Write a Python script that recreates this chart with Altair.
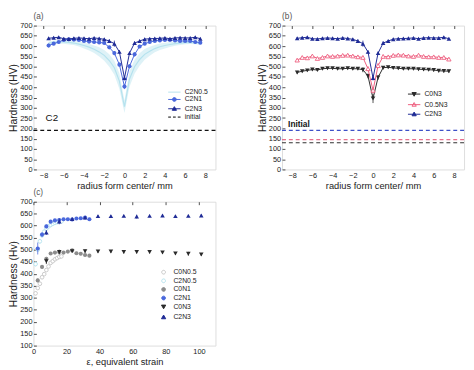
import altair as alt
import pandas as pd

FONT = "Liberation Sans"

# ---------------- data: panels (a) and (b), hardness vs radius ----------------
radius = [-7.5, -7.0, -6.5, -6.0, -5.5, -5.0, -4.5, -4.0, -3.5, -3.0, -2.5, -2.0, -1.5, -1.0, -0.5, 0.0,
          0.5, 1.0, 1.5, 2.0, 2.5, 3.0, 3.5, 4.0, 4.5, 5.0, 5.5, 6.0, 6.5, 7.0, 7.5]

hv_C2N05 = [615, 618, 620, 620, 618, 615, 610, 603, 595, 585, 572, 555, 530, 495, 430, 305,
            440, 500, 535, 560, 575, 588, 597, 603, 608, 612, 615, 617, 618, 617, 615]
hv_C2N1 = [603, 612, 620, 630, 633, 632, 630, 625, 622, 620, 618, 615, 594, 566, 510, 403,
           502, 560, 598, 612, 620, 625, 628, 630, 630, 628, 625, 625, 625, 620, 617]
hv_C2N3 = [638, 641, 643, 636, 635, 638, 640, 638, 636, 640, 637, 633, 625, 612, 572, 445,
           566, 615, 625, 634, 636, 637, 638, 640, 636, 640, 641, 640, 640, 643, 636]
hv_C05N3 = [532, 545, 543, 552, 540, 545, 552, 550, 552, 555, 556, 552, 548, 545, 490, 385,
            505, 550, 548, 555, 557, 556, 552, 550, 556, 550, 548, 548, 545, 545, 537]
hv_C0N3 = [472, 478, 482, 486, 484, 490, 492, 492, 490, 490, 492, 490, 490, 485, 455, 345,
           448, 495, 497, 494, 492, 490, 490, 490, 488, 486, 485, 484, 480, 479, 478]

err_C2N05 = [8, 8, 8, 8, 10, 10, 12, 14, 16, 18, 22, 26, 30, 34, 38, 30,
             38, 34, 30, 26, 22, 18, 16, 14, 12, 10, 10, 8, 8, 8, 8]
err_C2N1 = [10, 6, 6, 5, 5, 5, 5, 6, 6, 6, 6, 6, 8, 10, 10, 12,
            10, 10, 8, 6, 6, 5, 5, 5, 5, 5, 5, 5, 5, 6, 6]
err_C2N3 = [5, 5, 5, 6, 5, 5, 5, 5, 5, 5, 5, 6, 8, 15, 8, 12,
            8, 8, 6, 6, 5, 5, 5, 5, 5, 5, 5, 5, 5, 5, 5]
err_C05N3 = [6, 5, 5, 5, 5, 5, 5, 5, 5, 5, 5, 5, 6, 8, 12, 15,
             12, 8, 5, 5, 5, 5, 5, 5, 5, 5, 5, 5, 5, 5, 6]
err_C0N3 = [8, 6, 6, 5, 5, 5, 5, 5, 5, 5, 5, 5, 6, 12, 12, 22,
            12, 8, 5, 5, 5, 5, 5, 5, 5, 6, 6, 8, 8, 8, 8]

initial_a = [190]
initial_b_values = [190, 145, 130]
initial_b_series = ["C2N3", "C0.5N3", "C0N3"]

# ---------------- data: panel (c), hardness vs equivalent strain ----------------
eps_N05 = [1.3, 2.6, 3.9, 5.2, 6.5, 7.8, 9.1, 10.4, 11.7, 13.0, 14.3, 15.6, 16.9]
eps_N1 = [2.6, 5.2, 7.8, 10.4, 13.0, 15.6, 18.2, 20.8, 23.4, 26.0, 28.6, 31.2, 33.8]
eps_N3 = [7.8, 15.6, 23.4, 31.2, 39.0, 46.8, 54.6, 62.4, 70.2, 78.0, 85.8, 93.6, 101.4]

c_C0N05 = [318, 340, 358, 385, 398, 415, 430, 445, 452, 460, 465, 470, 472]
c_C2N05 = [440, 500, 535, 560, 575, 588, 597, 603, 608, 612, 615, 617, 618]
c_C0N1 = [372, 428, 462, 484, 488, 490, 488, 492, 497, 485, 483, 478, 475]
c_C2N1 = [505, 563, 597, 617, 622, 624, 627, 627, 626, 630, 631, 634, 627]
c_C0N3 = [452, 490, 494, 494, 492, 492, 490, 490, 490, 488, 484, 483, 480]
c_C2N3 = [572, 618, 628, 634, 640, 640, 641, 638, 641, 643, 640, 641, 643]

c_err_C0N05 = [8, 8, 8, 8, 8, 8, 8, 8, 8, 8, 8, 8, 8]
c_err_C2N05 = [10, 10, 10, 10, 8, 8, 8, 8, 8, 8, 8, 10, 8]
c_err_C0N1 = [8, 8, 8, 6, 6, 6, 6, 6, 6, 6, 6, 6, 6]
c_err_C2N1 = [25, 10, 8, 6, 6, 6, 5, 5, 5, 5, 5, 6, 6]
c_err_C0N3 = [12, 10, 6, 8, 6, 6, 6, 6, 6, 6, 6, 8, 6]
c_err_C2N3 = [10, 12, 6, 6, 5, 5, 5, 8, 5, 5, 5, 5, 5]

# ---------------- styles ----------------
STYLE = {
    "C2N0.5": dict(color="#b5e2ee", shape="circle", filled=False, size=14),
    "C2N1": dict(color="#4a68dc", shape="circle", filled=True, size=18),
    "C2N3": dict(color="#1f2b96", shape="triangle-up", filled=True, size=22),
    "C0.5N3": dict(color="#ee5d7e", shape="triangle-up", filled=False, size=20),
    "C0N3": dict(color="#2a2a2a", shape="triangle-down", filled=True, size=22),
    "C0N0.5": dict(color="#c6c6c6", shape="circle", filled=False, size=14),
    "C0N1": dict(color="#8c8c8c", shape="circle", filled=True, size=18),
}

STUB = "M-1.8,0L1.8,0"
P_CIRCLE = "M-0.55,0A0.55,0.55,0,1,1,0.55,0A0.55,0.55,0,1,1,-0.55,0Z"
P_UP = "M0,-0.62L0.62,0.45L-0.62,0.45Z"
P_DOWN = "M0,0.62L0.62,-0.45L-0.62,-0.45Z"
P_DASH = "M-1.8,0L-1.0,0M-0.4,0L0.4,0M1.0,0L1.8,0"


def make_frame(names, xs_list, ys_list, errs_list):
    rows = []
    for n, xs, ys, es in zip(names, xs_list, ys_list, errs_list):
        for xv, yv, ev in zip(xs, ys, es):
            rows.append({"series": n, "x": xv, "y": yv, "lo": yv - ev, "hi": yv + ev})
    return pd.DataFrame(rows)


def x_axis(values, title):
    return alt.Axis(values=values, title=title, grid=True, gridDash=[3, 1000], gridColor="#222",
                    gridWidth=0.8, ticks=False, domain=False, labelFontSize=7.5, titleFontSize=9.5,
                    labelPadding=2, titlePadding=2, labelColor="#222", titleColor="#222",
                    titleFontWeight="normal", labelFont=FONT, titleFont=FONT, labelFlush=False,
                    labelOverlap=False)


def y_axis(values, title):
    return alt.Axis(values=values, title=title, grid=True, gridDash=[3, 1000], gridColor="#222",
                    gridWidth=0.8, ticks=False, domain=False, labelFontSize=7.5, titleFontSize=10.5,
                    labelPadding=1.5, titlePadding=1, labelColor="#222", titleColor="#222",
                    titleFontWeight="normal", labelFont=FONT, titleFont=FONT, labelFlush=False,
                    labelOverlap=False)


def legend_layer(names, paths, fills, strokes, lx, ly, label_offset, row_pad):
    leg = alt.Legend(title=None, orient="none", legendX=lx, legendY=ly, labelFontSize=7,
                     labelFont=FONT, labelColor="#222", symbolSize=49, symbolStrokeWidth=1,
                     labelOffset=label_offset, rowPadding=row_pad, padding=0, symbolOpacity=1)
    return alt.Chart(pd.DataFrame({"series": names})).transform_filter("false").mark_point(
        filled=True, size=49, strokeWidth=1, opacity=1
    ).encode(
        shape=alt.Shape("series:N", scale=alt.Scale(domain=names, range=paths), legend=leg),
        fill=alt.Fill("series:N", scale=alt.Scale(domain=names, range=fills), legend=leg),
        stroke=alt.Stroke("series:N", scale=alt.Scale(domain=names, range=strokes), legend=leg),
    )


def panel(df, names, xdom, xvals, xtitle, ydom, yvals, ytitle, draw_lines, band_series, rules, note,
          legend, label, w, h):
    xs = alt.Scale(domain=xdom, nice=False, zero=False)
    ys = alt.Scale(domain=ydom, nice=False, zero=False)
    xa = x_axis(xvals, xtitle)
    ya = y_axis(yvals, ytitle)
    X = alt.X("x:Q", scale=xs, axis=xa)
    base = alt.Chart(df)
    layers = []
    for val, col in rules:
        layers.append(
            alt.Chart(pd.DataFrame({"v": [val]})).mark_rule(color=col, strokeDash=[4, 3], strokeWidth=1.1)
            .encode(y=alt.Y("v:Q", scale=ys, axis=ya))
        )
    for n in names:
        st = STYLE[n]
        sub = base.transform_filter(alt.datum.series == n)
        if n in band_series:
            layers.append(sub.mark_area(color=st["color"], opacity=0.45)
                          .encode(x=X, y=alt.Y("lo:Q", scale=ys, axis=ya), y2="hi:Q"))
            layers.append(sub.mark_line(color=st["color"], strokeWidth=1.2)
                          .encode(x=X, y=alt.Y("y:Q", scale=ys, axis=ya)))
            continue
        if draw_lines:
            layers.append(sub.mark_line(color=st["color"], strokeWidth=1)
                          .encode(x=X, y=alt.Y("y:Q", scale=ys, axis=ya)))
        layers.append(sub.mark_rule(color=st["color"], strokeWidth=0.8)
                      .encode(x=X, y=alt.Y("lo:Q", scale=ys, axis=ya), y2="hi:Q"))
        layers.append(sub.mark_point(shape=st["shape"], filled=st["filled"], size=st["size"],
                                     color=st["color"], strokeWidth=0.9, opacity=1,
                                     fill=st["color"] if st["filled"] else "#ffffff")
                      .encode(x=X, y=alt.Y("y:Q", scale=ys, axis=ya)))
    if note is not None:
        txt, nx, ny, bold, fs = note
        layers.append(
            alt.Chart(pd.DataFrame({"x": [nx], "y": [ny], "t": [txt]}))
            .mark_text(align="left", baseline="middle", fontSize=fs, font=FONT, color="#111",
                       fontWeight="bold" if bold else "normal")
            .encode(x=X, y=alt.Y("y:Q", scale=ys, axis=ya), text="t:N")
        )
    layers.append(legend)
    return alt.layer(*layers).properties(
        width=w, height=h,
        title=alt.Title(label, anchor="start", frame="group", fontSize=8.5, fontWeight="normal",
                        color="#555", offset=1, font=FONT),
    )


RAD_TICKS = [-8, -6, -4, -2, 0, 2, 4, 6, 8]
HV_TICKS = [0, 50, 100, 150, 200, 250, 300, 350, 400, 450, 500, 550, 600, 650, 700]
HV_TICKS_C = [100, 150, 200, 250, 300, 350, 400, 450, 500, 550, 600, 650, 700]
EPS_TICKS = [0, 20, 40, 60, 80, 100]

W, H = 186, 147
WB = 186

# panel (a)
names_a = ["C2N0.5", "C2N1", "C2N3"]
df_a = make_frame(names_a, [radius] * 3, [hv_C2N05, hv_C2N1, hv_C2N3], [err_C2N05, err_C2N1, err_C2N3])
leg_a = legend_layer(
    names_a + ["initial"],
    [STUB, STUB + P_CIRCLE, STUB + P_UP, P_DASH],
    [STYLE["C2N0.5"]["color"], STYLE["C2N1"]["color"], STYLE["C2N3"]["color"], "#000000"],
    [STYLE["C2N0.5"]["color"], STYLE["C2N1"]["color"], STYLE["C2N3"]["color"], "#000000"],
    140, 64, 6.5, 0.5,
)
pa = panel(df_a, names_a, [-9, 9], RAD_TICKS, "radius form center/ mm", [0, 700], HV_TICKS,
           "Hardness (HV)", True, ["C2N0.5"], [(initial_a[0], "#111111")], ("C2", -7.8, 250, False, 10),
           leg_a, "(a)", W, H)

# panel (b)
names_b = ["C0N3", "C0.5N3", "C2N3"]
df_b = make_frame(names_b, [radius] * 3, [hv_C0N3, hv_C05N3, hv_C2N3], [err_C0N3, err_C05N3, err_C2N3])
rule_cols = {"C2N3": "#3d50c8", "C0.5N3": "#e8708c", "C0N3": "#333333"}
leg_b = legend_layer(
    names_b,
    [STUB + P_DOWN, STUB + P_UP, STUB + P_UP],
    [STYLE["C0N3"]["color"], "#ffffff", STYLE["C2N3"]["color"]],
    [STYLE["C0N3"]["color"], STYLE["C0.5N3"]["color"], STYLE["C2N3"]["color"]],
    131, 66, 6.5, 0.8,
)
pb = panel(df_b, names_b, [-9, 9], RAD_TICKS, "radius form center/ mm", [0, 700], HV_TICKS,
           "Hardness (HV)", True, [],
           [(v, rule_cols[s]) for v, s in zip(initial_b_values, initial_b_series)],
           ("Initial", -8.4, 222, True, 8.5), leg_b, "(b)", WB, H)

# panel (c)
names_c = ["C0N0.5", "C2N0.5", "C0N1", "C2N1", "C0N3", "C2N3"]
df_c = make_frame(names_c, [eps_N05, eps_N05, eps_N1, eps_N1, eps_N3, eps_N3],
                  [c_C0N05, c_C2N05, c_C0N1, c_C2N1, c_C0N3, c_C2N3],
                  [c_err_C0N05, c_err_C2N05, c_err_C0N1, c_err_C2N1, c_err_C0N3, c_err_C2N3])
leg_c = legend_layer(
    names_c,
    [P_CIRCLE, P_CIRCLE, P_CIRCLE, P_CIRCLE, P_DOWN, P_UP],
    ["#ffffff", "#ffffff", STYLE["C0N1"]["color"], STYLE["C2N1"]["color"], STYLE["C0N3"]["color"],
     STYLE["C2N3"]["color"]],
    [STYLE[n]["color"] for n in names_c],
    129, 68, 6, 0.8,
)
pc = panel(df_c, names_c, [0, 110], EPS_TICKS, "ε, equivalent strain", [100, 700], HV_TICKS_C,
           "Hardness (Hv)", False, [], [], None, leg_c, "(c)", W, H)

chart = alt.concat(pa, pb, pc, columns=2, spacing={"row": 33, "column": 68}, bounds="flush").resolve_scale(
    shape="independent", fill="independent", stroke="independent"
).resolve_legend(
    shape="independent", fill="independent", stroke="independent"
).properties(
    padding=0
).configure_view(stroke="#222222", strokeWidth=1).configure(font=FONT)

chart.save("out.html", embed_options={"renderer": "svg", "actions": False})
